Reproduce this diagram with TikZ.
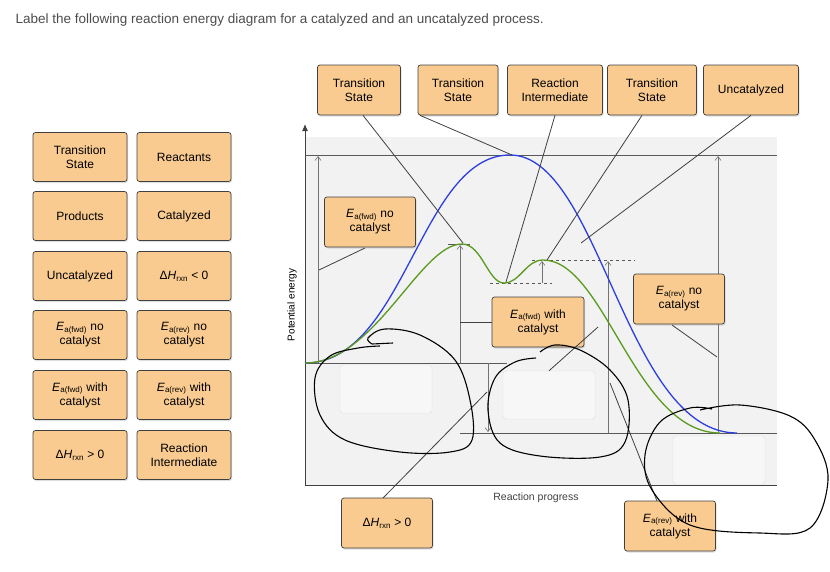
\documentclass[tikz,border=0pt]{standalone}
\usepackage{fontspec}
\setmainfont{Liberation Sans}
\usetikzlibrary{shadows,arrows.meta}
\definecolor{boxfill}{HTML}{F9CB90}
\definecolor{bg}{HTML}{F2F2F2}
\definecolor{cblue}{HTML}{2E3FE0}
\definecolor{cgreen}{HTML}{5A9A1E}
\newcommand{\eaf}{\textit{E}\textsubscript{a(fwd)}}
\newcommand{\ear}{\textit{E}\textsubscript{a(rev)}}
\newcommand{\dhr}{Δ\textit{H}\textsubscript{rxn}}
\begin{document}
\begin{tikzpicture}[x=1pt,y=-1pt,
  lbl/.style={draw=black!75,fill=boxfill,rounded corners=2.5pt,line width=0.7pt,
    minimum width=94pt,minimum height=49pt,align=center,font=\fontsize{12}{14}\selectfont,inner sep=1pt,
    drop shadow={opacity=0.25,shadow xshift=1pt,shadow yshift=-1.5pt}},
  tlbl/.style={lbl,minimum width=83pt,minimum height=50pt},
  drop/.style={draw=black!12,fill=white!97!black,rounded corners=3pt,minimum width=92pt,minimum height=48pt},
  con/.style={draw=black!75,line width=0.8pt},
  lev/.style={draw=black!65,line width=0.8pt},
  arr/.style={draw=black!55,line width=0.6pt,-{Straight Barb[length=4pt,width=6pt]}},
  hand/.style={draw=black,line width=1.1pt}]
\useasboundingbox (0,0) rectangle (830,571);
\node[anchor=west,text=black!70,font=\fontsize{13.5}{15}\selectfont] (title) at (12,20) {Label the following reaction energy diagram for a catalyzed and an uncatalyzed process.};
% left palette
\node[lbl] (p1) at (80,157) {Transition\\State};
\node[lbl] (p2) at (184,157) {Reactants};
\node[lbl] (p3) at (80,216) {Products};
\node[lbl] (p4) at (184,216) {Catalyzed};
\node[lbl] (p5) at (80,276) {Uncatalyzed};
\node[lbl] (p6) at (184,276) {\dhr{} < 0};
\node[lbl] (p7) at (80,335) {\eaf{} no\\catalyst};
\node[lbl] (p8) at (184,335) {\ear{} no\\catalyst};
\node[lbl] (p9) at (80,395) {\eaf{} with\\catalyst};
\node[lbl] (p10) at (184,395) {\ear{} with\\catalyst};
\node[lbl] (p11) at (80,455) {\dhr{} > 0};
\node[lbl] (p12) at (184,455) {Reaction\\Intermediate};
% plot background
\fill[bg] (305,137) rectangle (777,485);
\draw[black!75,line width=1pt] (305,485) -- (777,485);
\draw[black!75,line width=1pt,-{Latex[length=7pt,width=6pt]}] (305,485) -- (305,124);
\node[rotate=90,font=\fontsize{10}{12}\selectfont] (ylab) at (292,305) {Potential energy};
\node[font=\fontsize{10.5}{12}\selectfont,text=black!75] (xlab) at (536,498) {Reaction progress};
% levels
\draw[lev] (305,155) -- (777,155);
\draw[lev] (305,363) -- (507,363);
\draw[lev] (460,433) -- (777,433);
\draw[lev] (448,244) -- (470,244);
\draw[lev,dashed] (490,283) -- (552,283);
\draw[lev,dashed] (532,260) -- (635,260);
% energy arrows
\draw[arr] (318,363) -- (318,156);
\draw[arr] (718,433) -- (718,156);
\draw[arr] (460,363) -- (460,245);
\draw[arr] (488,363) -- (488,432);
\draw[arr] (542,283) -- (542,261);
\draw[arr] (608,433) -- (608,261);
% drop targets
\node[drop] (d1) at (386,389) {};
\node[drop] (d2) at (549,395) {};
\node[drop] (d3) at (719,460) {};
% curves
\draw[cblue,line width=1.3pt] (305,363) .. controls (405,363) and (420,155) .. (510,155) .. controls (600,155) and (625,433) .. (737,433);
\draw[cgreen,line width=1.3pt] (305,363) .. controls (375,363) and (420,244) .. (462,244) .. controls (482,244) and (488,283) .. (504,283) .. controls (520,283) and (526,260) .. (543,260) .. controls (605,260) and (635,433) .. (720,433);
% coordinates
\coordinate (tsg1) at (463,243);
\coordinate (tsb) at (512,155);
\coordinate (ri) at (506,282);
\coordinate (tsg2) at (547,260);
\coordinate (bl) at (581,243);
\coordinate (a1) at (319,270);
\coordinate (a2) at (460,322);
\coordinate (a3) at (717,357);
\coordinate (a4) at (598,327);
\coordinate (a5) at (487,392);
\coordinate (a6) at (610,383);
% top labels
\node[tlbl] (t1) at (359,90) {Transition\\State};
\node[tlbl,minimum width=80pt] (t2) at (458,90) {Transition\\State};
\node[tlbl,minimum width=95pt] (t3) at (555,90) {Reaction\\Intermediate};
\node[tlbl,minimum width=89pt] (t4) at (652,90) {Transition\\State};
\node[tlbl,minimum width=95pt] (t5) at (751,90) {Uncatalyzed};
\draw[con] (t1.south) ++(4,0) -- (tsg1);
\draw[con] (t2.south) ++(-38,0) -- (tsb);
\draw[con] (t3.south) -- (ri);
\draw[con] (t4.south) ++(-10,0) -- (tsg2);
\draw[con] (t5.south) -- (bl);
% placed labels
\node[lbl,minimum width=91pt,minimum height=50pt] (l1) at (370,222) {\eaf{} no\\catalyst};
\node[lbl,minimum width=92pt,minimum height=50pt] (l2) at (538,322) {\eaf{} with\\catalyst};
\node[lbl,minimum width=91pt,minimum height=50pt] (l3) at (679,299) {\ear{} no\\catalyst};
\node[lbl,minimum width=91pt,minimum height=50pt] (l4) at (387,523) {\dhr{} > 0};
\node[lbl,minimum width=91pt,minimum height=50pt] (l5) at (670,526) {\ear{} with\\catalyst};
\draw[con] (365,248) -- (a1);
\draw[con] (l2.west) -- (a2);
\draw[con] (672,325) -- (a3);
\draw[con] (d2.north) -- (a4);
\draw[con] (383,498) -- (a5);
\draw[con] (657,501) -- (a6);
% hand drawn loops
\draw[hand] (393,343) -- (372,344) plot[smooth,tension=0.6] coordinates {(372,344) (368,338) (385,329) (420,335) (455,360) (470,400) (472,440) (450,452) (400,452) (345,440) (320,415) (315,378) (330,356) (358,348) (380,346)};
\draw[hand] plot[smooth,tension=0.6] coordinates {(536,358) (515,362) (495,378) (488,410) (500,443) (540,456) (600,457) (625,442) (628,400) (610,370) (580,350) (555,345) (540,352)};
\draw[hand] plot[smooth,tension=0.6] coordinates {(712,409) (690,408) (660,422) (645,455) (652,490) (690,525) (760,533) (810,528) (828,480) (815,440) (790,416) (740,405) (700,410)};
\end{tikzpicture}
\end{document}
